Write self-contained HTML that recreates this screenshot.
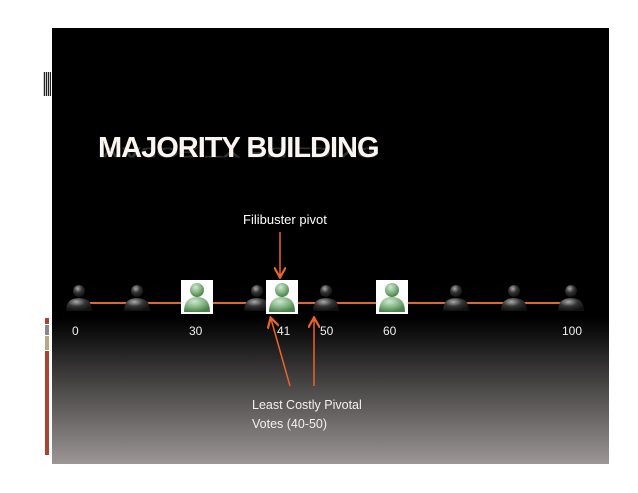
<!DOCTYPE html>
<html><head><style>
body{margin:0;width:638px;height:493px;background:#fff;position:relative;overflow:hidden;font-family:"Liberation Sans",sans-serif}
.slide{position:absolute;left:52px;top:28px;width:557px;height:436px;background:linear-gradient(#000 0,#000 290px,#9c9696 436px)}
.t{position:absolute;color:#fff}
.n{position:absolute;top:324px;color:#eee;font-size:12px}
</style></head><body>
<div class="slide"></div>
<div style="position:absolute;left:43px;top:72px;width:8px;height:24px;background:repeating-linear-gradient(90deg,#ccc 0,#ccc 1px,#222 1px,#222 2px)"></div>
<div style="position:absolute;left:45px;top:318px;width:4px;height:6px;background:#b04030"></div>
<div style="position:absolute;left:45px;top:325px;width:4px;height:10px;background:#888"></div>
<div style="position:absolute;left:45px;top:336px;width:4px;height:14px;background:#b8a888"></div>
<div style="position:absolute;left:45px;top:351px;width:4px;height:104px;background:#b04030"></div>
<div class="t" style="left:98px;top:132px;font-size:29px;font-weight:bold;letter-spacing:-1px;color:#fbf5f0">MAJORITY BUILDING</div>
<div class="t" style="left:98px;top:160px;font-size:29px;font-weight:bold;letter-spacing:-1px;color:#fff;opacity:.18;transform:scaleY(-0.5);transform-origin:top">MAJORITY BUILDING</div>
<div class="t" style="left:243px;top:212px;font-size:13px">Filibuster pivot</div>
<svg style="position:absolute;left:0;top:0" width="638" height="493">
<defs>
<radialGradient id="d" cx="40%" cy="30%" r="70%"><stop offset="0" stop-color="#aaa"/><stop offset=".5" stop-color="#333"/><stop offset="1" stop-color="#111"/></radialGradient>
<radialGradient id="g" cx="40%" cy="30%" r="70%"><stop offset="0" stop-color="#cfe8cf"/><stop offset=".6" stop-color="#7fb07f"/><stop offset="1" stop-color="#4a804a"/></radialGradient>
<marker id="a" markerWidth="8" markerHeight="8" refX="6" refY="4" orient="auto"><path d="M0,0 L7,4 L0,8" fill="none" stroke="#e8652a" stroke-width="1.5"/></marker>
</defs>
<line x1="88" y1="303" x2="570" y2="303" stroke="#e8652a" stroke-width="2"/>
<g id="p">
</g>
<g fill="url(#d)">
<circle cx="79" cy="291" r="6"/><path d="M66,311 Q66,298 79,298 Q92,298 92,311 Z"/>
<circle cx="137" cy="291" r="6"/><path d="M124,311 Q124,298 137,298 Q150,298 150,311 Z"/>
<circle cx="257" cy="291" r="6"/><path d="M244,311 Q244,298 257,298 Q270,298 270,311 Z"/>
<circle cx="326" cy="291" r="6"/><path d="M313,311 Q313,298 326,298 Q339,298 339,311 Z"/>
<circle cx="456" cy="291" r="6"/><path d="M443,311 Q443,298 456,298 Q469,298 469,311 Z"/>
<circle cx="514" cy="291" r="6"/><path d="M501,311 Q501,298 514,298 Q527,298 527,311 Z"/>
<circle cx="571" cy="291" r="6"/><path d="M558,311 Q558,298 571,298 Q584,298 584,311 Z"/>
</g>
<g>
<rect x="181" y="280" width="32" height="34" fill="#fff"/>
<rect x="266" y="280" width="32" height="34" fill="#fff"/>
<rect x="376" y="280" width="32" height="34" fill="#fff"/>
</g>
<g fill="url(#g)">
<circle cx="197" cy="290" r="7"/><path d="M184,312 Q184,297 197,297 Q210,297 210,312 Z"/>
<circle cx="282" cy="290" r="7"/><path d="M269,312 Q269,297 282,297 Q295,297 295,312 Z"/>
<circle cx="392" cy="290" r="7"/><path d="M379,312 Q379,297 392,297 Q405,297 405,312 Z"/>
</g>
<line x1="280" y1="232" x2="280" y2="276" stroke="#e8652a" stroke-width="1.5" marker-end="url(#a)"/>
<line x1="290" y1="386" x2="271" y2="319" stroke="#e8652a" stroke-width="1.5" marker-end="url(#a)"/>
<line x1="314" y1="386" x2="314" y2="319" stroke="#e8652a" stroke-width="1.5" marker-end="url(#a)"/>
</svg>
<div class="n" style="left:72px">0</div>
<div class="n" style="left:189px">30</div>
<div class="n" style="left:277px">41</div>
<div class="n" style="left:320px">50</div>
<div class="n" style="left:383px">60</div>
<div class="n" style="left:562px">100</div>
<div class="t" style="left:252px;top:396px;font-size:12.5px;line-height:19px;color:#f4f0ee">Least Costly Pivotal<br>Votes (40-50)</div>
</body></html>
